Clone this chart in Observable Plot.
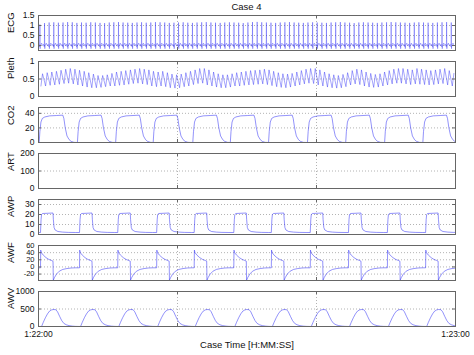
<!DOCTYPE html>
<html><head><meta charset="utf-8">
<script src="https://cdn.jsdelivr.net/npm/d3@7"></script>
<script src="https://cdn.jsdelivr.net/npm/@observablehq/plot@0.6"></script>
<style>
body{margin:0;background:#fff;font-family:"Liberation Sans",Arial,sans-serif;}
#chart{width:474px;height:355px;overflow:hidden;}
#title{height:15px;width:417px;margin-left:38px;text-align:center;font-size:9.5px;line-height:13px;color:#111;}
svg{display:block;}
</style>
</head><body>
<div id="chart"><div id="title"></div></div>
<script>
// ---------- data (seconds after 1:22:00) ----------
const title = "Case 4";
const xLabel = "Case Time [H:MM:SS]";
const xTicks = [0, 20, 40, 60];
const xTickLabels = ["1:22:00", "", "", "1:23:00"];
const panelNames = ["ECG", "Pleth", "CO2", "ART", "AWP", "AWF", "AWV"];
const ecgTicks = [0, 0.5, 1, 1.5];
const plethTicks = [0, 0.5, 1];
const co2Ticks = [0, 20, 40];
const artTicks = [0, 100, 200];
const awpTicks = [0, 10, 20, 30];
const awfTicks = [-20, 0, 20, 40, 60];
const awvTicks = [0, 500, 1000];

// ECG R-peak times and heights
const ecgBeatTimes = [
 0.20,0.87,1.53,2.20,2.86,3.53,4.19,4.86,5.52,6.19,
 6.85,7.52,8.18,8.85,9.51,10.18,10.84,11.51,12.17,12.84,
 13.50,14.17,14.83,15.50,16.16,16.83,17.49,18.16,18.82,19.49,
 20.15,20.82,21.48,22.15,22.81,23.48,24.14,24.81,25.47,26.14,
 26.80,27.47,28.13,28.80,29.46,30.13,30.79,31.46,32.12,32.79,
 33.45,34.12,34.78,35.45,36.11,36.78,37.44,38.11,38.77,39.44,
 40.10,40.77,41.43,42.10,42.76,43.43,44.09,44.76,45.42,46.09,
 46.75,47.42,48.08,48.75,49.41,50.08,50.74,51.41,52.07,52.74,
 53.40,54.07,54.73,55.40,56.06,56.73,57.39,58.06,58.72,59.39];
const ecgRHeights = [
 1.05,1.12,1.15,1.16,1.14,1.15,1.17,1.16,1.13,1.15,
 1.14,1.16,1.15,1.13,1.12,1.15,1.16,1.17,1.15,1.14,
 1.13,1.15,1.16,1.14,1.15,1.17,1.16,1.15,1.13,1.14,
 1.15,1.16,1.14,1.13,1.15,1.16,1.17,1.15,1.14,1.13,
 1.15,1.16,1.15,1.14,1.12,1.15,1.17,1.18,1.16,1.15,
 1.14,1.13,1.15,1.16,1.17,1.15,1.14,1.13,1.15,1.16,
 1.15,1.14,1.13,1.15,1.16,1.17,1.15,1.14,1.12,1.15,
 1.16,1.15,1.14,1.13,1.15,1.16,1.17,1.16,1.15,1.14,
 1.13,1.15,1.16,1.15,1.14,1.13,1.15,1.16,1.17,1.15];
// one heartbeat shape: offsets from R peak, values (null = R height)
const ecgShapeOffsets = [-0.25,-0.16,-0.11,-0.04,-0.015,0,0.02,0.035,0.06,0.18,0.26,0.33,0.40];
const ecgShapeValues  = [0,0.06,0,-0.06,0.3,null,0.3,-0.16,-0.03,0.08,0.12,0.03,0];

// Pleth trough / peak per beat
const plethTroughs = [
 0.30,0.30,0.32,0.33,0.35,0.37,0.38,0.36,0.33,
 0.30,0.27,0.25,0.25,0.26,0.28,0.30,0.30,0.32,
 0.33,0.35,0.37,0.38,0.36,0.34,0.30,0.28,0.30,
 0.28,0.25,0.24,0.25,0.28,0.30,0.34,0.37,0.38,
 0.33,0.30,0.27,0.25,0.25,0.27,0.30,0.30,0.32,
 0.33,0.34,0.35,0.36,0.34,0.31,0.28,0.26,0.25,
 0.27,0.30,0.33,0.36,0.38,0.37,0.33,0.30,0.27,
 0.25,0.24,0.25,0.28,0.33,0.36,0.34,0.30,0.27,
 0.26,0.27,0.30,0.33,0.36,0.38,0.38,0.36,0.34,
 0.36,0.35,0.34,0.33,0.34,0.36,0.37,0.33,0.30];
const plethPeaks = [
 0.65,0.68,0.70,0.72,0.75,0.78,0.80,0.78,0.75,
 0.72,0.68,0.64,0.60,0.60,0.62,0.66,0.70,0.72,
 0.74,0.76,0.78,0.80,0.78,0.76,0.72,0.70,0.72,
 0.68,0.64,0.62,0.64,0.68,0.72,0.76,0.80,0.80,
 0.76,0.70,0.65,0.62,0.62,0.65,0.68,0.70,0.72,
 0.74,0.75,0.76,0.78,0.76,0.72,0.68,0.65,0.64,
 0.66,0.70,0.74,0.78,0.80,0.80,0.76,0.70,0.65,
 0.62,0.60,0.63,0.68,0.74,0.78,0.76,0.70,0.66,
 0.63,0.65,0.70,0.74,0.78,0.80,0.80,0.78,0.76,
 0.80,0.78,0.76,0.74,0.76,0.78,0.80,0.74,0.66];
const plethTroughDelay = 0.15, plethPeakDelay = 0.38;

// CO2: start of each exhalation upstroke, one capnogram cycle shape
const co2Onsets = [-5.45, 0.10, 5.60, 11.10, 16.50, 22.20, 27.60, 33.10, 38.70, 44.20, 49.80, 55.30];
const co2ShapeOffsets = [0,0.10,0.25,0.45,0.8,1.5,2.5,3.4,3.55,3.75,4.0,4.3,4.6,5.0];
const co2ShapeValues  = [0,15,28,33,35,36.5,37,37.5,33,20,9,4,1.5,0.2];

// ART: no signal recorded
const artValues = [];

// Ventilator breaths (inspiration starts)
const breathOnsets = [-5.25, 0.29, 5.90, 11.40, 17.00, 22.40, 28.10, 33.50, 39.10, 44.60, 50.20, 55.70];
const awpShapeOffsets = [0,0.08,0.15,0.3,1.8,1.85,1.95,2.1,2.5,3.2,4.0,5.0];
const awpShapeValues  = [2,15,20,21,21.5,15,7,4.5,3,2.4,2.1,2];
const awfShapeOffsets = [0,0.03,0.12,0.4,0.8,1.2,1.6,1.8,1.84,2.0,2.3,2.7,3.2,3.8,4.4,5.0];
const awfShapeValues  = [-2.5,47,40,33,26,21,18,16,-37,-30,-20,-12,-7,-4.5,-3,-2.5];
const awvShapeOffsets = [0.15,0.4,0.7,1.0,1.3,1.6,1.85,2.2,2.45,2.75,3.05,3.35,3.7,4.1,4.6,5.0];
const awvShapeValues  = [0,120,250,360,440,475,485,480,420,290,170,90,50,25,10,4];

// ---------- build tables ----------
function repeatShape(onsets, offs, vals, fill) {
  const out = [];
  onsets.forEach((t0, i) => offs.forEach((o, j) => {
    out.push({t: t0 + o, v: vals[j] === null ? fill[i] : vals[j]});
  }));
  return out;
}
const ecgData = repeatShape(ecgBeatTimes, ecgShapeOffsets, ecgShapeValues, ecgRHeights);
const plethData = [];
ecgBeatTimes.forEach((t, i) => {
  plethData.push({t: t + plethTroughDelay, v: plethTroughs[i]});
  plethData.push({t: t + plethPeakDelay, v: plethPeaks[i]});
});
const co2Data = repeatShape(co2Onsets, co2ShapeOffsets, co2ShapeValues);
const awpData = repeatShape(breathOnsets, awpShapeOffsets, awpShapeValues);
const awfData = repeatShape(breathOnsets, awfShapeOffsets, awfShapeValues);
const awvData = repeatShape(breathOnsets, awvShapeOffsets, awvShapeValues);

const panels = [
  {name: panelNames[0], domain: [-0.25, 1.5], ticks: ecgTicks, data: ecgData, sw: 0.45},
  {name: panelNames[1], domain: [0, 1], ticks: plethTicks, data: plethData, sw: 0.5},
  {name: panelNames[2], domain: [0, 48], ticks: co2Ticks, data: co2Data},
  {name: panelNames[3], domain: [0, 200], ticks: artTicks, data: artValues},
  {name: panelNames[4], domain: [0, 35], ticks: awpTicks, data: awpData},
  {name: panelNames[5], domain: [-38, 60], ticks: awfTicks, data: awfData, fs: 7.5},
  {name: panelNames[6], domain: [0, 1000], ticks: awvTicks, data: awvData}
];

// ---------- draw ----------
document.getElementById("title").textContent = title;
const W = 474, mL = 38, mR = 19, PH = 35, GAP = 11;
const frameColor = "#666", gridColor = "#a0a0a0", lineColor = "#2a2af5";
const xTickLen = 60 * 3 / (W - mL - mR);
const chart = document.getElementById("chart");

panels.forEach((p, k) => {
  const last = k === panels.length - 1;
  const mB = last ? 29 : GAP;
  const [y0, y1] = p.domain;
  const yTickLen = (y1 - y0) * 3 / PH;
  const inner = p.ticks.filter(d => d > y0 && d < y1);
  const marks = [
    Plot.ruleY(inner, {stroke: gridColor, strokeDasharray: "1,2", strokeWidth: 0.8}),
    Plot.ruleX([20, 40], {stroke: gridColor, strokeDasharray: "1,2", strokeWidth: 0.8}),
    p.data.length ? Plot.line(p.data, {x: "t", y: "v", stroke: lineColor, strokeWidth: p.sw || 0.6, strokeOpacity: 0.85, clip: true}) : null,
    Plot.ruleY(p.ticks, {x1: 0, x2: xTickLen, stroke: frameColor}),
    Plot.ruleY(p.ticks, {x1: 60 - xTickLen, x2: 60, stroke: frameColor}),
    Plot.ruleX(xTicks, {y1: y0, y2: y0 + yTickLen, stroke: frameColor}),
    Plot.ruleX(xTicks, {y1: y1 - yTickLen, y2: y1, stroke: frameColor}),
    Plot.frame({stroke: frameColor}),
    Plot.axisY({ticks: p.ticks, tickSize: 0, tickPadding: 4, tickFormat: d => String(d), fontSize: p.fs || 8.5, label: null, fill: "#111"}),
    Plot.text([p.name], {text: d => d, frameAnchor: "left", dx: -28, rotate: -90, fontSize: 9.5, fill: "#111"})
  ];
  if (last) {
    marks.push(Plot.text(xTicks.map((t, i) => ({t, s: xTickLabels[i]})).filter(d => d.s),
      {x: "t", text: "s", frameAnchor: "bottom", dy: 10, fontSize: 8.5, fill: "#111"}));
    marks.push(Plot.text([xLabel], {text: d => d, frameAnchor: "bottom", dy: 21.5, fontSize: 9.5, fill: "#111"}));
  }
  const svg = Plot.plot({
    width: W, height: PH + mB, marginLeft: mL, marginRight: mR, marginTop: 0, marginBottom: mB,
    style: {fontFamily: "Liberation Sans, Arial, sans-serif", background: "#fff", overflow: "visible"},
    x: {domain: [0, 60], axis: null},
    y: {domain: p.domain},
    marks
  });
  chart.appendChild(svg);
});
</script>
</body></html>
